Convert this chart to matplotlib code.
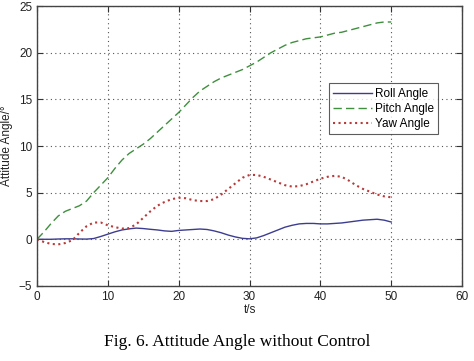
import matplotlib
matplotlib.use("Agg")
import matplotlib.pyplot as plt
import numpy as np

plt.rcParams['font.family'] = ['Liberation Sans', 'DejaVu Sans']

t = [0, 1, 2, 3, 4, 5, 6, 7, 8, 9, 10, 11, 12, 13, 14, 15, 16, 17, 18, 19, 20,
     21, 22, 23, 24, 25, 26, 27, 28, 29, 30, 31, 32, 33, 34, 35, 36, 37, 38, 39, 40,
     41, 42, 43, 44, 45, 46, 47, 48, 49, 50]
roll = [0, 0, 0, 0.03, 0.05, 0.05, 0.03, 0.02, 0.08, 0.3, 0.55, 0.8, 1.0, 1.12, 1.2, 1.15, 1.07, 1.0, 0.9, 0.85, 0.95,
        1.0, 1.05, 1.1, 1.05, 0.9, 0.7, 0.45, 0.25, 0.1, 0.05, 0.15, 0.4, 0.7, 1.0, 1.3, 1.5, 1.65, 1.7, 1.7, 1.65,
        1.65, 1.7, 1.75, 1.85, 1.95, 2.05, 2.1, 2.15, 2.05, 1.85]
pitch = [0, 0.8, 1.7, 2.5, 3.0, 3.3, 3.6, 4.1, 5.0, 5.8, 6.6, 7.6, 8.5, 9.2, 9.7, 10.2, 10.8, 11.5, 12.2, 12.9, 13.6,
         14.4, 15.2, 15.9, 16.4, 16.9, 17.3, 17.6, 17.9, 18.2, 18.6, 19.0, 19.5, 20.0, 20.4, 20.8, 21.1, 21.3, 21.5, 21.6, 21.7,
         21.9, 22.1, 22.2, 22.4, 22.6, 22.8, 23.0, 23.2, 23.3, 23.3]
yaw = [0, -0.3, -0.5, -0.55, -0.4, -0.1, 0.7, 1.4, 1.8, 1.8, 1.5, 1.3, 1.15, 1.2, 1.6, 2.3, 3.0, 3.6, 4.0, 4.3, 4.45,
       4.4, 4.2, 4.1, 4.1, 4.3, 4.8, 5.4, 6.0, 6.6, 6.9, 6.9, 6.7, 6.4, 6.1, 5.8, 5.65, 5.7, 5.9, 6.2, 6.5,
       6.7, 6.8, 6.7, 6.3, 5.8, 5.4, 5.1, 4.8, 4.6, 4.5]

xticks = [0, 10, 20, 30, 40, 50, 60]
yticks = [-5, 0, 5, 10, 15, 20, 25]

fig = plt.figure(figsize=(4.74, 3.61), dpi=100)
ax = fig.add_axes([0.078, 0.208, 0.897, 0.775])

ax.plot(t, roll, '-', color='#3d3d90', lw=1.0, label='Roll Angle')
ax.plot(t, pitch, '--', color='#3f8f3f', lw=1.0, dashes=(6, 3), label='Pitch Angle')
ax.plot(t, yaw, ':', color='#b83a3a', lw=1.5, label='Yaw Angle')

ax.set_xlim(0, 60)
ax.set_ylim(-5, 25)
ax.set_xticks(xticks)
ax.set_yticks(yticks)
ax.tick_params(direction='in', top=True, right=True, labelsize=8.5, length=4, colors='#333333', labelcolor='#222222')
ax.grid(True, linestyle=(0, (1, 3)), color='#555555', lw=0.8)
for s in ax.spines.values():
    s.set_color('#444444')
    s.set_linewidth(1.0)

ax.set_xlabel('t/s', fontsize=8.5, labelpad=1, color='#222222')
ax.set_ylabel('Attitude Angle/°', fontsize=8.5, labelpad=4, color='#222222')

leg = ax.legend(loc='upper left', bbox_to_anchor=(0.686, 0.725), fontsize=8.5, frameon=True,
                fancybox=False, edgecolor='#333333', handlelength=3.3, handletextpad=0.2,
                borderpad=0.4, labelspacing=0.25, borderaxespad=0)
leg.get_frame().set_linewidth(0.8)

fig.text(0.5, 0.03, 'Fig. 6. Attitude Angle without Control', ha='center', va='bottom',
         fontsize=12.5, family='Liberation Serif')

fig.savefig('out.png', dpi=100)
